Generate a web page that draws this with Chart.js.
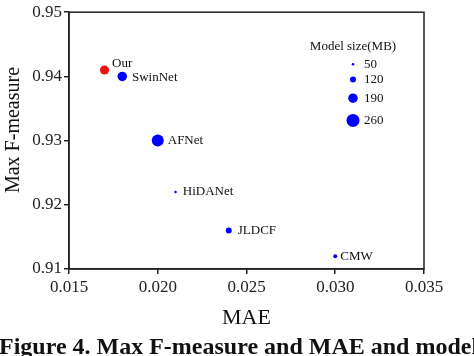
<!DOCTYPE html>
<html>
<head>
<meta charset="utf-8">
<script src="https://cdn.jsdelivr.net/npm/chart.js@4/dist/chart.umd.min.js"></script>
<style>
html,body{margin:0;padding:0;background:#fff;}
#wrap{width:474px;height:356px;position:relative;}
</style>
</head>
<body>
<div id="wrap"><canvas id="c" width="474" height="356"></canvas></div>
<script>
// ---- data ----
const models = ['Our', 'SwinNet', 'AFNet', 'HiDANet', 'JLDCF', 'CMW'];
const maeValues = [0.017, 0.018, 0.020, 0.021, 0.024, 0.030];
const maxFValues = [0.941, 0.940, 0.930, 0.922, 0.916, 0.912];
const modelSizeMB = [180, 190, 240, 50, 120, 80];
const legendSizesMB = [50, 120, 190, 260];
const xTickValues = [0.015, 0.020, 0.025, 0.030, 0.035];
const yTickValues = [0.91, 0.92, 0.93, 0.94, 0.95];

// ---- styles ----
const SERIF = '"Liberation Serif", "Times New Roman", serif';
const radiusOf = mb => mb / 40;
const pointColors = models.map(m => m === 'Our' ? '#ee1111' : '#0000ff');
const labelOffsets = {
  Our: [3, -6.5], SwinNet: [5, 1], AFNet: [4, 0], HiDANet: [6, 0], JLDCF: [6, 0], CMW: [3, 0]
};

const points = models.map((m, i) => ({ x: maeValues[i], y: maxFValues[i], r: radiusOf(modelSizeMB[i]) }));

const overlayPlugin = {
  id: 'overlay',
  afterDatasetsDraw(chart) {
    const ctx = chart.ctx;
    const a = chart.chartArea;
    ctx.save();
    // frame
    ctx.strokeStyle = '#222';
    ctx.lineWidth = 1.5;
    ctx.strokeRect(a.left, a.top, a.right - a.left, a.bottom - a.top);

    // point labels
    const meta = chart.getDatasetMeta(0);
    ctx.fillStyle = '#111';
    ctx.font = '13px ' + SERIF;
    ctx.textBaseline = 'middle';
    ctx.textAlign = 'left';
    meta.data.forEach((el, i) => {
      const off = labelOffsets[models[i]];
      const r = points[i].r;
      ctx.fillText(models[i], el.x + r + off[0], el.y + off[1]);
    });

    // size legend
    const cx = a.right - 71;
    ctx.textAlign = 'center';
    ctx.fillText('Model size(MB)', cx, a.top + 34);
    let y = a.top + 52;
    let prevR = null;
    legendSizesMB.forEach(s => {
      const r = radiusOf(s);
      if (prevR !== null) y += prevR + r + 11;
      ctx.beginPath();
      ctx.arc(cx, y, r, 0, Math.PI * 2);
      ctx.fillStyle = '#0000ff';
      ctx.fill();
      ctx.fillStyle = '#111';
      ctx.textAlign = 'left';
      ctx.fillText(String(s), cx + 11, y);
      prevR = r;
    });

    // axis titles
    ctx.fillStyle = '#111';
    ctx.textAlign = 'center';
    ctx.font = '22px ' + SERIF;
    ctx.fillText('MAE', (a.left + a.right) / 2, 318);
    ctx.save();
    ctx.translate(14, 130);
    ctx.rotate(-Math.PI / 2);
    ctx.font = '20px ' + SERIF;
    ctx.fillText('Max F-measure', 0, 0);
    ctx.restore();

    // caption (cut by the image bottom)
    ctx.font = 'bold 24px ' + SERIF;
    ctx.textAlign = 'left';
    ctx.textBaseline = 'alphabetic';
    ctx.fillText('Figure 4. Max F-measure and MAE and model', -1, 354);
    ctx.restore();
  }
};

new Chart(document.getElementById('c'), {
  type: 'bubble',
  data: {
    datasets: [{
      data: points,
      backgroundColor: pointColors,
      borderWidth: 0,
      hoverRadius: 0
    }]
  },
  options: {
    responsive: false,
    animation: false,
    layout: { padding: { top: 10, right: 50, left: 0, bottom: 0 } },
    plugins: { legend: { display: false }, tooltip: { enabled: false } },
    scales: {
      x: {
        type: 'linear',
        min: xTickValues[0],
        max: xTickValues[xTickValues.length - 1],
        afterBuildTicks: s => { s.ticks = xTickValues.map(v => ({ value: v })); },
        afterFit: s => { s.height = 87; },
        grid: { display: true, drawOnChartArea: false, drawTicks: true, tickLength: 5, color: '#222', lineWidth: 1.5 },
        border: { display: true, color: '#222', width: 1.5 },
        ticks: { callback: v => Number(v).toFixed(3), color: '#222', padding: 3, maxRotation: 0, font: { family: SERIF, size: 17 } }
      },
      y: {
        type: 'linear',
        min: yTickValues[0],
        max: yTickValues[yTickValues.length - 1],
        afterBuildTicks: s => { s.ticks = yTickValues.map(v => ({ value: v })); },
        afterFit: s => { s.width = 69; },
        grid: { display: true, drawOnChartArea: false, drawTicks: true, tickLength: 5, color: '#222', lineWidth: 1.5 },
        border: { display: true, color: '#222', width: 1.5 },
        ticks: { callback: v => Number(v).toFixed(2), color: '#222', padding: 2, font: { family: SERIF, size: 17 } }
      }
    }
  },
  plugins: [overlayPlugin]
});
</script>
</body>
</html>
